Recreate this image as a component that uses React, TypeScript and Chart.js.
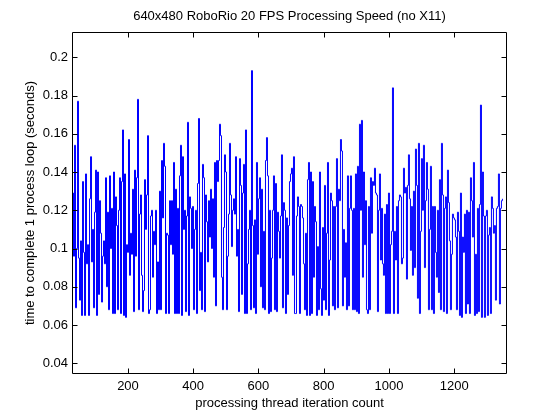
import { useEffect, useRef } from "react";
import { Chart, registerables } from "chart.js";

Chart.register(...registerables);

const TITLE = "640x480 RoboRio 20 FPS Processing Speed (no X11)";
const X_LABEL = "processing thread iteration count";
const Y_LABEL = "time to complete 1 process loop (seconds)";

const FIRST_ITERATION = 30;
const LAST_ITERATION = 1348;
const X_MIN = 28.4;
const X_MAX = 1362;
const Y_MIN = 0.0344;
const Y_MAX = 0.2132;
const X_TICKS = [200, 400, 600, 800, 1000, 1200];
const Y_TICKS = [0.04, 0.06, 0.08, 0.1, 0.12, 0.14, 0.16, 0.18, 0.2];

const LOOP_MS_1 = [
  129, 96, 154, 69, 100, 177, 95, 73, 104, 65, 135, 98, 65, 139, 92, 102, 65, 126, 148, 93,
  110, 69, 119, 141, 65, 140, 76, 125, 108, 72, 96, 104, 92, 137, 80, 119, 68, 138, 100, 121,
  66, 140, 66, 127, 112, 68, 120, 137, 66, 135, 162, 65, 139, 64, 102, 98, 157, 86, 108, 97,
  131, 67, 141, 96, 137, 178, 68, 118, 128, 86, 67, 78, 136,
];
const LOOP_MS_2 = [
  110, 128, 159, 66, 68, 117, 120, 85, 109, 102, 120, 66, 93, 68, 130, 68, 146, 116, 155, 143,
  66, 108, 107, 66, 125, 102, 125, 97, 145, 66, 131, 66, 121, 66, 138, 154, 65, 148, 110, 120,
  67, 117, 166, 65, 127, 121, 100, 122, 68, 110, 120, 66, 134, 168, 78, 98, 68, 144, 137, 67,
  128, 114, 93, 125, 106, 131, 100, 126, 85, 145, 70, 146, 135,
];
const LOOP_MS_3 = [
  146, 165, 159, 85, 68, 111, 149, 140, 68, 96, 118, 155, 128, 101, 120, 126, 118, 148, 96, 110,
  67, 147, 133, 76, 129, 144, 66, 162, 66, 92, 110, 120, 68, 193, 112, 69, 115, 66, 145, 97,
  126, 137, 80, 131, 69, 109, 68, 146, 158, 138, 66, 120, 67, 95, 120, 138, 68, 134, 67, 119,
  109, 95, 117, 149, 69, 124, 120, 66, 116, 76, 112, 135, 139,
];
const LOOP_MS_4 = [
  142, 86, 148, 66, 66, 117, 127, 122, 66, 123, 122, 116, 92, 68, 108, 65, 136, 145, 65, 140,
  66, 135, 85, 122, 114, 65, 101, 68, 140, 79, 65, 111, 73, 133, 68, 108, 145, 65, 94, 129,
  125, 70, 122, 68, 122, 147, 69, 131, 125, 157, 151, 70, 110, 85, 103, 68, 138, 70, 121, 138,
  120, 68, 121, 68, 139, 67, 143, 66, 165, 120, 167, 85, 140,
];
const LOOP_MS_5 = [
  102, 125, 68, 66, 122, 68, 137, 108, 135, 133, 142, 129, 128, 67, 120, 139, 94, 121, 92, 86,
  118, 66, 123, 66, 129, 66, 102, 109, 184, 66, 109, 94, 122, 66, 125, 128, 127, 92, 95, 142,
  129, 132, 84, 133, 149, 126, 99, 122, 86, 130, 90, 152, 133, 74, 155, 66, 109, 147, 120, 154,
  90, 125, 145, 131, 68, 110, 143, 68, 122, 66, 122, 98, 85,
];
const LOOP_MS_6 = [
  120, 77, 136, 68, 155, 128, 67, 121, 127, 66, 141, 124, 104, 68, 97, 118, 116, 115, 106, 68,
  119, 109, 65, 129, 64, 106, 98, 118, 66, 120, 71, 119, 66, 137, 125, 106, 145, 65, 97, 66,
  121, 67, 123, 175, 64, 140, 117, 64, 117, 120, 65, 107, 111, 66, 127, 121, 108, 112, 73, 121,
  122, 139, 71, 121, 125, 126,
];

const LOOP_MS = [
  ...LOOP_MS_1,
  ...LOOP_MS_2,
  ...LOOP_MS_3,
  ...LOOP_MS_4,
  ...LOOP_MS_5,
  ...LOOP_MS_6,
];

const FONT_FAMILY = "'Liberation Sans', Arial, Helvetica, sans-serif";

const framePlugin = {
  id: "matlabFrame",
  afterDraw(chart: any) {
    const { ctx, chartArea, scales } = chart;
    const l = Math.round(chartArea.left) + 0.5;
    const r = Math.round(chartArea.right) - 0.5;
    const t = Math.round(chartArea.top) + 0.5;
    const b = Math.round(chartArea.bottom) - 0.5;
    const len = 5;
    ctx.save();
    ctx.strokeStyle = "#000";
    ctx.lineWidth = 1;
    ctx.beginPath();
    ctx.rect(l, t, r - l, b - t);
    for (const v of X_TICKS) {
      const px = Math.round(scales.x.getPixelForValue(v)) + 0.5;
      ctx.moveTo(px, b);
      ctx.lineTo(px, b - len);
      ctx.moveTo(px, t);
      ctx.lineTo(px, t + len);
    }
    for (const v of Y_TICKS) {
      const py = Math.round(scales.y.getPixelForValue(v)) + 0.5;
      ctx.moveTo(l, py);
      ctx.lineTo(l + len, py);
      ctx.moveTo(r, py);
      ctx.lineTo(r - len, py);
    }
    ctx.stroke();
    ctx.restore();
  },
};

export default function App() {
  const canvasRef = useRef<HTMLCanvasElement | null>(null);

  useEffect(() => {
    const canvas = canvasRef.current;
    if (!canvas) return;
    const n = LOOP_MS.length;
    const step = (LAST_ITERATION - FIRST_ITERATION) / (n - 1);
    const points = LOOP_MS.map((ms, i) => ({ x: FIRST_ITERATION + i * step, y: ms / 1000 }));

    const chart = new Chart(canvas, {
      type: "line",
      data: {
        datasets: [
          {
            data: points,
            borderColor: "#0000ff",
            borderWidth: 1,
            borderCapStyle: "butt",
            pointRadius: 0,
            tension: 0,
            stepped: true,
            fill: false,
          },
        ],
      },
      options: {
        animation: false,
        responsive: false,
        maintainAspectRatio: false,
        devicePixelRatio: 1,
        layout: { padding: { left: 0, right: 53, top: 0, bottom: 0 } },
        plugins: {
          legend: { display: false },
          tooltip: { enabled: false },
          title: {
            display: true,
            fullSize: false,
            text: TITLE,
            color: "#000",
            font: { family: FONT_FAMILY, size: 13, weight: "normal" },
            padding: { top: 9, bottom: 7.4 },
          },
        },
        scales: {
          x: {
            type: "linear",
            min: X_MIN,
            max: X_MAX,
            grid: { display: false, drawTicks: false },
            border: { display: false },
            afterBuildTicks: (scale: any) => {
              scale.ticks = X_TICKS.map((v) => ({ value: v }));
            },
            afterFit: (scale: any) => {
              scale.height = 46;
            },
            ticks: {
              color: "#000",
              padding: 5,
              maxRotation: 0,
              autoSkip: false,
              font: { family: FONT_FAMILY, size: 13 },
              callback: (v: any) => String(v),
            },
            title: {
              display: true,
              text: X_LABEL,
              color: "#000",
              font: { family: FONT_FAMILY, size: 13 },
              padding: { top: 0, bottom: 9.2 },
            },
          },
          y: {
            type: "linear",
            min: Y_MIN,
            max: Y_MAX,
            grid: { display: false, drawTicks: false },
            border: { display: false },
            afterBuildTicks: (scale: any) => {
              scale.ticks = Y_TICKS.map((v) => ({ value: v }));
            },
            afterFit: (scale: any) => {
              scale.width = 72;
            },
            ticks: {
              color: "#000",
              padding: 4,
              autoSkip: false,
              font: { family: FONT_FAMILY, size: 13 },
              callback: (v: any) => String(Number(Number(v).toFixed(2))),
            },
            title: {
              display: true,
              text: Y_LABEL,
              color: "#000",
              font: { family: FONT_FAMILY, size: 13 },
              padding: { top: 22.2, bottom: 0 },
            },
          },
        },
      },
      plugins: [framePlugin],
    });

    return () => chart.destroy();
  }, []);

  return (
    <div style={{ position: "absolute", left: 0, top: 0, width: 560, height: 420, background: "#fff" }}>
      <canvas ref={canvasRef} width={560} height={420} style={{ width: 560, height: 420, display: "block" }} />
    </div>
  );
}
